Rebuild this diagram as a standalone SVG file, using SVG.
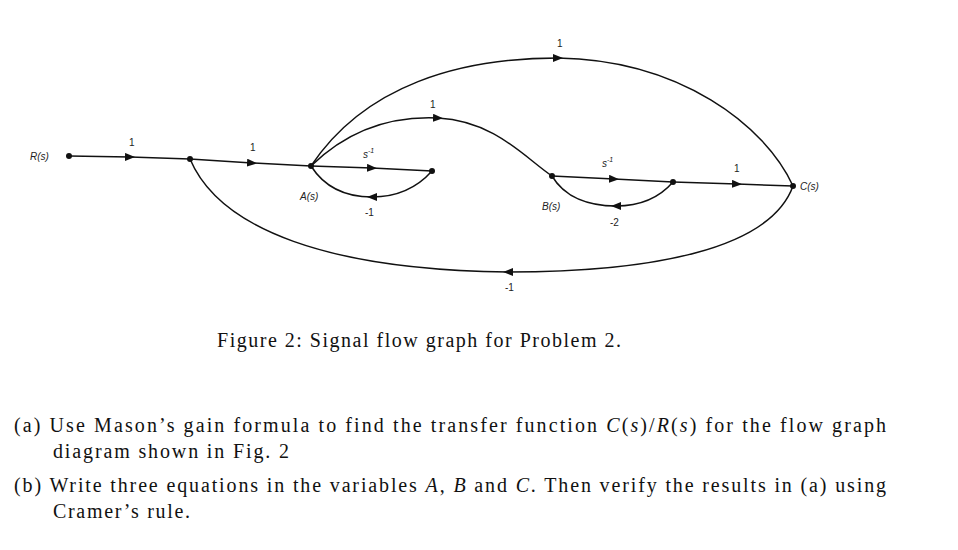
<svg xmlns="http://www.w3.org/2000/svg" width="958" height="550" viewBox="0 0 958 550">
<style>
.e{fill:none;stroke:#111;stroke-width:1.5}
.n{fill:#111}
.l{font-family:"Liberation Sans",Arial,sans-serif;font-size:10px;fill:#222}
.li{font-family:"Liberation Sans",Arial,sans-serif;font-size:10px;fill:#222;font-style:italic}
.t{font-family:"Liberation Serif","Times New Roman",serif;font-size:20px;fill:#111}
.m{font-style:italic}
</style>
<defs>
<marker id="a" viewBox="0 0 10 8" refX="5" refY="4" markerWidth="10" markerHeight="8" markerUnits="userSpaceOnUse" orient="auto"><path d="M0,0 L10,4 L0,8 z" fill="#111"/></marker>
</defs>
<rect width="958" height="550" fill="#fff"/>
<g id="connectors">
<path class="e" d="M69,156 L130,157" marker-end="url(#a)"/><path class="e" d="M130,157 L190,159"/>
<path class="e" d="M190,159 L252,163" marker-end="url(#a)"/><path class="e" d="M252,163 L311,166"/>
<path class="e" d="M311,166 L372,168" marker-end="url(#a)"/><path class="e" d="M372,168 L432,171"/>
<path class="e" d="M432,171 C415,190 395,197 372,197" marker-end="url(#a)"/><path class="e" d="M372,197 C345,197 325,188 311,166"/>
<path class="e" d="M311,166 C350,128 395,116 438,118" marker-end="url(#a)"/><path class="e" d="M438,118 C495,121 525,158 552,176"/>
<path class="e" d="M311,166 C365,85 460,58 558,58" marker-end="url(#a)"/><path class="e" d="M558,58 C680,60 765,125 793,186"/>
<path class="e" d="M552,176 L614,179" marker-end="url(#a)"/><path class="e" d="M614,179 L673,182"/>
<path class="e" d="M673,182 C660,197 640,206 616,206" marker-end="url(#a)"/><path class="e" d="M616,206 C590,206 565,198 552,176"/>
<path class="e" d="M673,182 L737,184" marker-end="url(#a)"/><path class="e" d="M737,184 L793,186"/>
<path class="e" d="M793,186 C770,250 650,272 508,272" marker-end="url(#a)"/><path class="e" d="M508,272 C330,270 220,230 190,159"/>
</g>
<g id="R"><circle class="n" cx="69" cy="156" r="3"/><text class="li" x="30" y="160">R(s)</text></g>
<g id="N1"><circle class="n" cx="190" cy="159" r="3"/></g>
<g id="A"><circle class="n" cx="311" cy="166" r="3"/><text class="li" x="300" y="200">A(s)</text></g>
<g id="A2"><circle class="n" cx="432" cy="171" r="3"/></g>
<g id="B"><circle class="n" cx="552" cy="176" r="3"/><text class="li" x="542" y="210">B(s)</text></g>
<g id="B2"><circle class="n" cx="673" cy="182" r="3"/></g>
<g id="C"><circle class="n" cx="793" cy="186" r="3"/><text class="li" x="800" y="190">C(s)</text></g>
<g id="labels">
<text class="l" x="129" y="146">1</text>
<text class="l" x="250" y="151">1</text>
<text class="li" x="363" y="158">s<tspan dy="-5" font-size="7">-1</tspan></text>
<text class="l" x="365" y="216">-1</text>
<text class="l" x="430" y="108">1</text>
<text class="l" x="557" y="47">1</text>
<text class="li" x="602" y="167">s<tspan dy="-5" font-size="7">-1</tspan></text>
<text class="l" x="610" y="226">-2</text>
<text class="l" x="734" y="172">1</text>
<text class="l" x="505" y="291">-1</text>
</g>
<g id="text">
<text class="t" x="217" y="347" textLength="404" lengthAdjust="spacing">Figure 2: Signal flow graph for Problem 2.</text>
<text class="t" x="14" y="432" textLength="872" lengthAdjust="spacing">(a) Use Mason’s gain formula to find the transfer function <tspan class="m">C</tspan>(<tspan class="m">s</tspan>)/<tspan class="m">R</tspan>(<tspan class="m">s</tspan>) for the flow graph</text>
<text class="t" x="53" y="458" textLength="236" lengthAdjust="spacing">diagram shown in Fig. 2</text>
<text class="t" x="14" y="492" textLength="872" lengthAdjust="spacing">(b) Write three equations in the variables <tspan class="m">A</tspan>, <tspan class="m">B</tspan> and <tspan class="m">C</tspan>. Then verify the results in (a) using</text>
<text class="t" x="53" y="518" textLength="137" lengthAdjust="spacing">Cramer’s rule.</text>
</g>
</svg>
